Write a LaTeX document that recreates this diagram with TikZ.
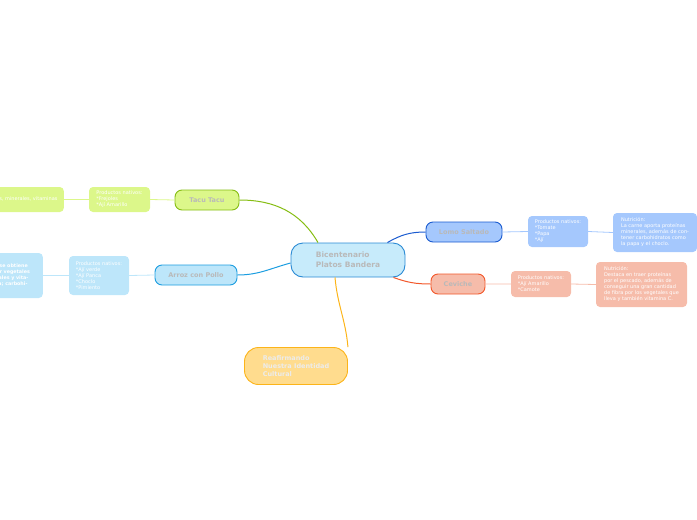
\documentclass[tikz,border=0pt]{standalone}
\usepackage{fontspec}
\setmainfont{DejaVu Sans}
\definecolor{gF}{HTML}{DCF78A}\definecolor{gD}{HTML}{86BD13}\definecolor{gS}{HTML}{DCF78A}
\definecolor{bF}{HTML}{BDE6FA}\definecolor{bD}{HTML}{1B9DE0}
\definecolor{lF}{HTML}{A5C8FD}\definecolor{lD}{HTML}{1A5BD0}
\definecolor{rF}{HTML}{F6BCAA}\definecolor{rD}{HTML}{F2572A}
\definecolor{yF}{HTML}{FFDC8E}\definecolor{yD}{HTML}{FCB419}
\definecolor{cF}{HTML}{C7EBFB}\definecolor{cD}{HTML}{2A8AD4}
\begin{document}
\begin{tikzpicture}[x=1pt,y=-1pt,
 box/.style={rounded corners=4pt,inner sep=3pt,align=left,text=white,font=\fontsize{5}{6}\selectfont},
 topic/.style={rounded corners=7pt,line width=0.9pt,text=gray!55,font=\bfseries\fontsize{6.5}{8}\selectfont,inner sep=0pt},
 lnk/.style={line width=1pt}]
\useasboundingbox (0,0) rectangle (697,520);
\begin{scope}
\clip (0,0) rectangle (697,520);
\node[topic,draw=cD,fill=cF,rounded corners=12pt,minimum width=114pt,minimum height=34pt,align=left,font=\bfseries\fontsize{7.5}{10}\selectfont] (c) at (348,260) {Bicentenario\\Platos Bandera};
\node[topic,draw=gD,fill=gF,minimum width=64pt,minimum height=20pt] (tt) at (207,200) {Tacu Tacu};
\node[topic,draw=bD,fill=bF,minimum width=82pt,minimum height=20pt] (ap) at (196,275) {Arroz con Pollo};
\node[topic,draw=lD,fill=lF,minimum width=76pt,minimum height=20pt] (ls) at (464,232) {Lomo Saltado};
\node[topic,draw=rD,fill=rF,minimum width=54pt,minimum height=20pt] (cv) at (458,284) {Ceviche};
\node[topic,draw=yD,fill=yF,rounded corners=14pt,minimum width=103pt,minimum height=37pt,text=white!85!gray,align=left] (re) at (296,366) {Reafirmando\\Nuestra Identidad\\Cultural};
\node[box,fill=gS,minimum width=61pt,minimum height=25pt] (tt1) at (119.5,199.5) {Productos nativos:\\*Frejoles\\*Ají Amarillo};
\node[box,fill=gS,minimum width=110pt,minimum height=25pt,anchor=east] (tt2) at (64,199.5) {Nutrición:\\Aporta proteínas, minerales, vitaminas\\y grasas.};
\node[box,fill=bF,minimum width=60pt,minimum height=39pt] (ap1) at (99,275.5) {Productos nativos:\\*Ají verde\\*Ají Panca\\*Choclo\\*Pimiento};
\node[box,fill=bF,minimum width=100pt,minimum height=45pt,anchor=east,font=\bfseries\fontsize{4.8}{6}\selectfont] (ap2) at (43,275.5) {Por la proteína, se obtiene\\además de llevar vegetales\\con fibra, minerales y vita-\\minas de la papa; carbohi-};
\node[box,fill=lF,minimum width=60pt,minimum height=31pt] (ls1) at (558,231.5) {Productos nativos:\\*Tomate\\*Papa\\*Ají};
\node[box,fill=lF,minimum width=84pt,minimum height=39pt] (ls2) at (655,232.5) {Nutrición:\\La carne aporta proteínas\\minerales, además de con-\\tener carbohidratos como\\la papa y el choclo.};
\node[box,fill=rF,minimum width=60pt,minimum height=26pt] (cv1) at (541,284) {Productos nativos:\\*Ají Amarillo\\*Camote};
\node[box,fill=rF,minimum width=91pt,minimum height=45pt] (cv2) at (641.5,284.5) {Nutrición:\\Destaca en traer proteínas\\por el pescado, además de\\conseguir una gran cantidad\\de fibra por los vegetales que\\lleva y también vitamina C.};
\draw[lnk,gD] (c.north)+(-30,0) to[out=120,in=0] (tt.east);
\draw[lnk,bD] (c.west)+(0,3) to[out=195,in=0] (ap.east);
\draw[lnk,lD] (c.north east)+(-18,0) to[out=30,in=180] (ls.west);
\draw[lnk,rD] (c.south east)+(-12,0) to[out=-20,in=180] (cv.west);
\draw[lnk,yD] (c.south)+(-13,0) to[out=-85,in=95] (re.north east);
\draw[gS,line width=0.8pt] (tt.west)--(tt1.east) (tt1.west)--(tt2.east);
\draw[bF,line width=0.8pt] (ap.west)--(ap1.east) (ap1.west)--(ap2.east);
\draw[lF,line width=0.8pt] (ls.east)--(ls1.west) (ls1.east)--(ls2.west);
\draw[rF,line width=0.8pt] (cv.east)--(cv1.west) (cv1.east)--(cv2.west);
\end{scope}
\end{tikzpicture}
\end{document}
